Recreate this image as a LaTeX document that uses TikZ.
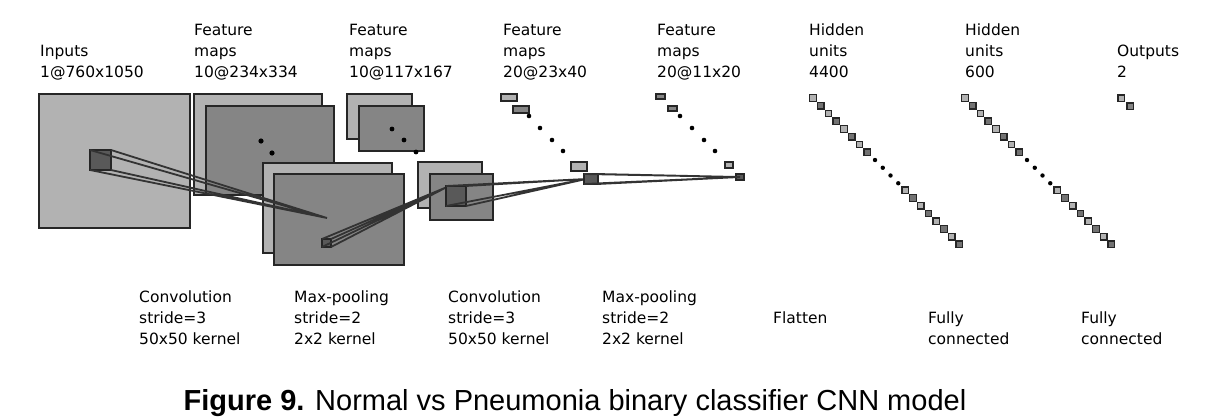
\documentclass[tikz,border=0pt]{standalone}
\usepackage{fontspec}
\setmainfont{DejaVu Sans}
\newfontfamily\capfont{Liberation Sans}
\begin{document}
\begin{tikzpicture}[x=1pt,y=-1pt,
 lbl/.style={anchor=north west,inner sep=0pt,font=\fontsize{15.5}{21}\selectfont,align=left},
 lt/.style={fill=black!30,draw=black!85,line width=1.3pt},
 dk/.style={fill=black!48,draw=black!85,line width=1.3pt},
 pt/.style={fill=black!65,draw=black!85,line width=1.3pt},
 cn/.style={draw=black!80,line width=1.8pt},
 dot/.style={fill=black,draw=none}]
\useasboundingbox (0,0) rectangle (1228,418);
% input
\draw[lt] (39,94) rectangle (190,228);
% feature maps 1
\draw[lt] (194,94) rectangle (322,195);
\draw[dk] (206,106) rectangle (334,195);
\fill[dot] (261,141) circle (2.6) (272,153) circle (2.6);
% feature maps 2 upper
\draw[lt] (347,94) rectangle (412,139);
\draw[dk] (359,106) rectangle (424,151);
\fill[dot] (392,129) circle (2.4) (404,140) circle (2.4) (416,152) circle (2.4);
% fm1 lower
\draw[lt] (263,163) rectangle (392,253);
\draw[dk] (274,174) rectangle (404,265);
% fm2 lower
\draw[lt] (418,162) rectangle (482,208);
\draw[dk] (430,174) rectangle (493,220);
% fm3
\draw[lt] (501,94) rectangle (517,101);
\draw[dk] (513,106) rectangle (529,113);
\foreach \p in {(529,116),(540,128),(552,140),(563,151)} \fill[dot] \p circle (2.3);
\draw[lt] (571,162) rectangle (587,171);
% fm4
\draw[dk] (656,94) rectangle (665,99);
\draw[dk] (668,106) rectangle (677,111);
\foreach \p in {(680,116),(692,128),(704,140),(715,151)} \fill[dot] \p circle (2.3);
\draw[lt] (725,162) rectangle (733,168);
\draw[pt] (736,174) rectangle (744,180);
% patches and connectors
\draw[pt] (90,150) rectangle (111,170);
\coordinate (t1) at (327,218);
\draw[cn] (90,150) -- (t1) (111,150) -- (t1) (90,170) -- (t1) (111,170) -- (t1);
\draw[pt] (322,239) rectangle (331,247);
\coordinate (t2) at (447,187);
\draw[cn] (322,239) -- (t2) (331,239) -- (t2) (322,247) -- (t2) (331,247) -- (t2);
\draw[pt] (446,186) rectangle (466,206);
\coordinate (t3) at (586,179);
\draw[cn] (446,186) -- (t3) (466,186) -- (t3) (446,206) -- (t3) (466,206) -- (t3);
\draw[pt] (584,174) rectangle (598,184);
\coordinate (t4) at (740,177);
\draw[cn] (584,174) -- (t4) (598,174) -- (t4) (584,184) -- (t4) (598,184) -- (t4);
% hidden units
\foreach \x/\y in {813/98, 965/98}{
 \foreach \i in {0,...,7}{
   \pgfmathsetmacro\c{mod(\i,2)==0?30:55}
   \draw[fill=black!\c,draw=black!85,line width=1.3pt] (\x+7.75*\i-3.3,\y+7.75*\i-3.3) rectangle ++(6.6,6.6);}
 \foreach \i in {8,...,11}{\fill[dot] (\x+7.75*\i,\y+7.75*\i) circle (2.2);}
 \foreach \i in {12,...,19}{
   \pgfmathsetmacro\c{mod(\i,2)==0?30:55}
   \draw[fill=black!\c,draw=black!85,line width=1.3pt] (\x+7.7*\i-3.3,\y+7.7*\i-3.3) rectangle ++(6.6,6.6);}
}
\draw[lt,line width=1.3pt] (1118,95) rectangle ++(6.6,6.6);
\draw[dk,line width=1.3pt] (1127,103) rectangle ++(6.6,6.6);
% labels top
\node[lbl] (l0) at (40,45) {Inputs\\1@760x1050};
\node[lbl] (l1) at (194,24) {Feature\\maps\\10@234x334};
\node[lbl] (l2) at (349,24) {Feature\\maps\\10@117x167};
\node[lbl] (l3) at (503,24) {Feature\\maps\\20@23x40};
\node[lbl] (l4) at (657,24) {Feature\\maps\\20@11x20};
\node[lbl] (l5) at (809,24) {Hidden\\units\\4400};
\node[lbl] (l6) at (965,24) {Hidden\\units\\600};
\node[lbl] (l7) at (1117,45) {Outputs\\2};
% labels bottom
\node[lbl] (b1) at (139,291) {Convolution\\stride=3\\50x50 kernel};
\node[lbl] (b2) at (294,291) {Max-pooling\\stride=2\\2x2 kernel};
\node[lbl] (b3) at (448,291) {Convolution\\stride=3\\50x50 kernel};
\node[lbl] (b4) at (602,291) {Max-pooling\\stride=2\\2x2 kernel};
\node[lbl] (b5) at (773,312) {Flatten};
\node[lbl] (b6) at (928,312) {Fully\\connected};
\node[lbl] (b7) at (1081,312) {Fully\\connected};
\node[anchor=base,inner sep=0pt,font=\capfont\fontsize{29}{32}\selectfont] (cap) at (575,410) {\textbf{Figure 9.} Normal vs Pneumonia binary classifier CNN model};
\end{tikzpicture}
\end{document}
